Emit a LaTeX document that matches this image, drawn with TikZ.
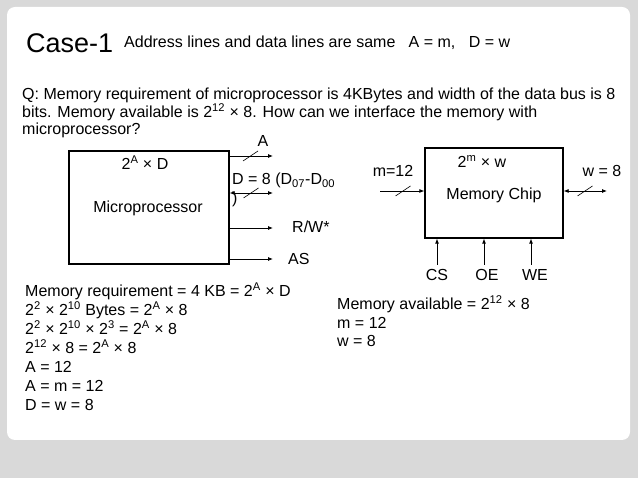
\documentclass[tikz,border=0pt]{standalone}
\usepackage{fontspec}
\setmainfont{Liberation Sans}
\usetikzlibrary{arrows.meta, positioning}
\definecolor{slidegray}{HTML}{D9D9D9}

\begin{document}
\begin{tikzpicture}[x=1pt, y=-1pt,
  txt/.style={inner sep=0pt, font=\fontsize{16}{19}\selectfont},
  chip/.style={draw, line width=1.3pt, inner sep=0pt},
  sig/.style={line width=0.8pt, -{Latex[length=5pt, width=4pt]}},
  bus/.style={line width=0.8pt, {Latex[length=5pt, width=4pt]}-{Latex[length=5pt, width=4pt]}},
  slash/.style={line width=0.6pt}]
\useasboundingbox (0,0) rectangle (638,478);
\fill[slidegray] (0,0) rectangle (638,478);
\fill[white, rounded corners=8pt] (7,7) rectangle (630,440);
\node[txt, anchor=base west, font=\fontsize{27}{30}\selectfont] (case) at (26,53) {Case-1};
\node[txt, anchor=base west] (note) at (124,48) {Address lines and data lines are same~~~A = m,~~~D = w};
% multi-line nodes are anchored at the baseline of their last line
\node[txt, anchor=base west, align=left, font=\fontsize{16}{17.5}\selectfont] (question) at (22,135)
  {Q: Memory requirement of microprocessor is 4KBytes and width of the data bus is 8\\
   bits. Memory available is 2\textsuperscript{12} × 8. How can we interface the memory with\\
   microprocessor?};
\node[chip, minimum width=160, minimum height=113] (cpu) at (149,207.5) {};
\node[txt, anchor=base] (cpusize) at (145,170) {2\textsuperscript{A} × D};
\node[txt, anchor=base] (cpuname) at (148,213) {Microprocessor};
\coordinate (aend) at (273,156);
\coordinate (dend) at (273,193);
\coordinate (rwend) at (273,228);
\coordinate (asend) at (273,259);
\draw[sig] (cpu.east |- aend) -- (aend);
\draw[bus] (cpu.east |- dend) -- (dend);
\draw[sig] (cpu.east |- rwend) -- (rwend);
\draw[sig] (cpu.east |- asend) -- (asend);
\draw[slash] (250.5,156) ++(-7.5,5) -- ++(15,-10);
\draw[slash] (251,193) ++(-7.5,5) -- ++(15,-10);
\node[txt, anchor=base] (alabel) at (263,147) {A};
\node[txt, anchor=base west, align=left] (dlabel) at (232,204) {D = 8 (D\textsubscript{07}-D\textsubscript{00}\\)};
\node[txt, anchor=base west] (rwlabel) at (292,233) {R/W*};
\node[txt, anchor=base west] (aslabel) at (288,265) {AS};
\node[chip, minimum width=138, minimum height=90] (mem) at (494,193) {};
\node[txt, anchor=base] (memsize) at (482,168) {2\textsuperscript{m} × w};
\node[txt, anchor=base] (memname) at (494,200) {Memory Chip};
\coordinate (mstart) at (380,191);
\coordinate (wend) at (607,191);
\draw[sig] (mstart) -- (mstart -| mem.west);
\draw[bus] (mem.east |- wend) -- (wend);
\draw[slash] (403,191) ++(-7.5,5) -- ++(15,-10);
\draw[slash] (585,191) ++(-7.5,5) -- ++(15,-10);
\node[txt, anchor=base] (mlabel) at (393,177) {m=12};
\node[txt, anchor=base] (wlabel) at (602,177) {w = 8};
\coordinate (csstart) at (437,265);
\coordinate (oestart) at (484,265);
\coordinate (westart) at (531,265);
\draw[sig] (csstart) -- (csstart |- mem.south);
\draw[sig] (oestart) -- (oestart |- mem.south);
\draw[sig] (westart) -- (westart |- mem.south);
\node[txt, anchor=base] (cslabel) at (437,280.5) {CS};
\node[txt, anchor=base] (oelabel) at (487,280.5) {OE};
\node[txt, anchor=base] (welabel) at (535,280.5) {WE};
\node[txt, anchor=base west, align=left] (required) at (25,411)
  {Memory requirement = 4 KB = 2\textsuperscript{A} × D\\
   2\textsuperscript{2} × 2\textsuperscript{10} Bytes = 2\textsuperscript{A} × 8\\
   2\textsuperscript{2} × 2\textsuperscript{10} × 2\textsuperscript{3} = 2\textsuperscript{A} × 8\\
   2\textsuperscript{12} × 8 = 2\textsuperscript{A} × 8\\
   A = 12\\
   A = m = 12\\
   D = w = 8};
\node[txt, anchor=base west, align=left, font=\fontsize{16}{18.5}\selectfont] (available) at (337,347)
  {Memory available = 2\textsuperscript{12} × 8\\
   m = 12\\
   w = 8};
\end{tikzpicture}
\end{document}
